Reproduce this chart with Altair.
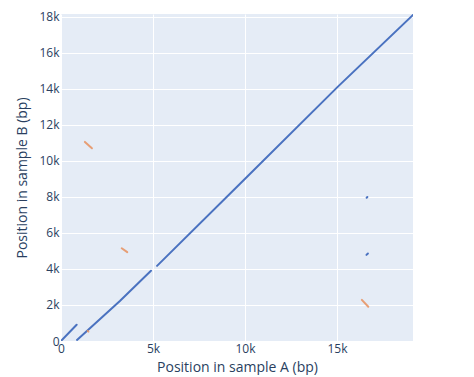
import altair as alt
import pandas as pd

# Segments of the dot plot (forward = blue, reverse = orange)
seg_ids = ["f1", "f1",
           "f2", "f2", "f2",
           "f3", "f3", "f3", "f3",
           "f4", "f4",
           "f5", "f5",
           "r1", "r1",
           "r2", "r2",
           "r3", "r3",
           "r4", "r4"]
strands = ["fwd"] * 13 + ["rev"] * 8
pos_a = [0, 850,
         870, 3200, 4890,
         5220, 9730, 15050, 19130,
         16610, 16650,
         16600, 16680,
         1300, 1680,
         3300, 3600,
         16350, 16700,
         1450, 1490]
pos_b = [0, 900,
         60, 2220, 3900,
         4170, 8730, 14120, 18100,
         7950, 7990,
         4780, 4860,
         11050, 10700,
         5150, 4930,
         2280, 1900,
         560, 520]
order = [0, 1, 0, 1, 2, 0, 1, 2, 3, 0, 1, 0, 1, 0, 1, 0, 1, 0, 1, 0, 1]

x_ticks = [0, 5000, 10000, 15000]
y_ticks = [0, 2000, 4000, 6000, 8000, 10000, 12000, 14000, 16000, 18000]

df = pd.DataFrame({"seg": seg_ids, "strand": strands, "a": pos_a, "b": pos_b, "ord": order})

label_expr = "datum.value == 0 ? '0' : (datum.value / 1000) + 'k'"

chart = alt.Chart(df).mark_line(strokeWidth=2, strokeCap="round", clip=True).encode(
    x=alt.X("a:Q", title="Position in sample A (bp)",
            scale=alt.Scale(domain=[0, 19130], nice=False, zero=False),
            axis=alt.Axis(values=x_ticks, labelExpr=label_expr, labelFlush=False,
                          labelPadding=2, titlePadding=6)),
    y=alt.Y("b:Q", title="Position in sample B (bp)",
            scale=alt.Scale(domain=[0, 18150], nice=False, zero=False),
            axis=alt.Axis(values=y_ticks, labelExpr=label_expr, labelFlush=False,
                          labelPadding=2, titlePadding=9)),
    detail="seg:N",
    order="ord:Q",
    color=alt.Color("strand:N", scale=alt.Scale(domain=["fwd", "rev"], range=["#4a72c0", "#e8915e"]), legend=None),
    opacity=alt.Opacity("strand:N", scale=alt.Scale(domain=["fwd", "rev"], range=[1.0, 0.85]), legend=None),
).properties(
    width=352, height=327,
    autosize=alt.AutoSizeParams(type="none"),
    padding={"left": 53, "top": 6, "right": 53, "bottom": 34},
).configure(
    background="white",
).configure_view(
    fill="#E5ECF6", stroke=None,
).configure_axis(
    domain=False, ticks=False, grid=True, gridColor="white", gridWidth=1,
    labelColor="#2a3f5f", titleColor="#2a3f5f",
    labelFont="Open Sans", titleFont="Open Sans",
    labelFontSize=12, titleFontSize=14, titleFontWeight="normal",
)

chart.save("out.html", embed_options={"renderer": "svg", "actions": False})
